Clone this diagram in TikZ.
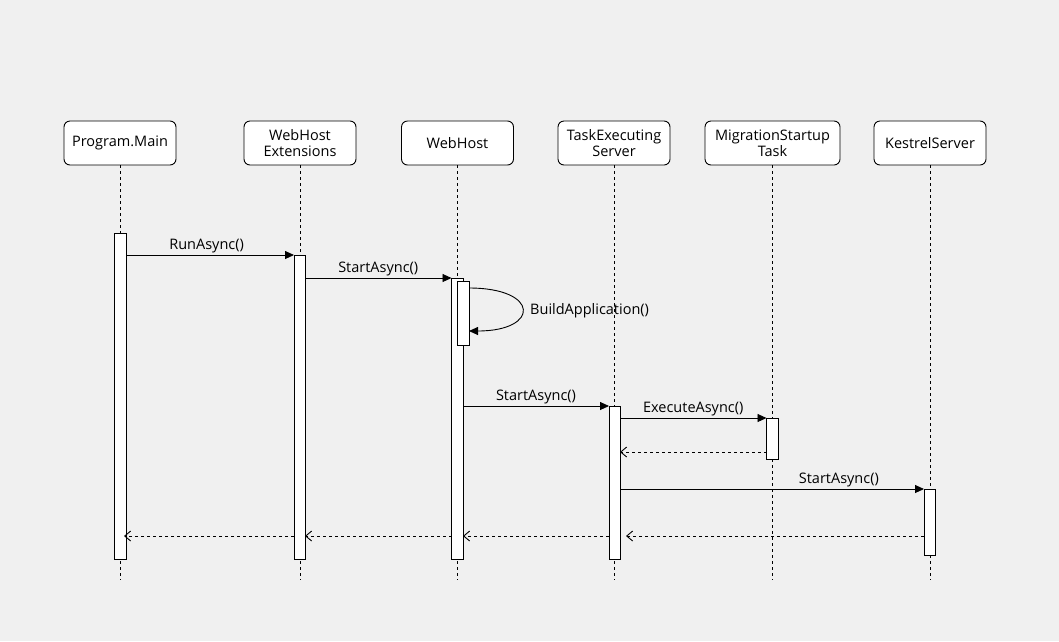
\documentclass[tikz,border=0pt]{standalone}
\usepackage{fontspec}
\setmainfont{Open Sans}
\usetikzlibrary{arrows.meta}
\definecolor{bg}{HTML}{F0F0F0}
\begin{document}
\begin{tikzpicture}[x=1pt,y=-1pt,
  hdr/.style={draw,fill=white,rounded corners=6pt,minimum width=112pt,minimum height=44pt,align=center,inner sep=1pt,line width=0.9pt,font=\fontsize{14.5}{16.5}\selectfont},
  life/.style={dashed,line width=0.9pt},
  act/.style={draw,fill=white,line width=0.9pt},
  msg/.style={line width=0.9pt,-{Triangle[length=9pt,width=8pt]}},
  ret/.style={line width=0.9pt,dashed,-{Straight Barb[length=6pt,width=10pt]}},
  lbl/.style={font=\fontsize{14.5}{16.5}\selectfont,inner sep=2pt}]
\fill[bg] (0,0) rectangle (1059,641);
\useasboundingbox (0,0) rectangle (1059,641);
\node[hdr] (pm) at (120,143) {Program.Main};
\node[hdr] (we) at (300,143) {WebHost\\Extensions};
\node[hdr] (wh) at (457.5,143) {WebHost};
\node[hdr] (te) at (614,143) {TaskExecuting\\Server};
\node[hdr,minimum width=135pt] (ms) at (772.5,143) {MigrationStartup\\Task};
\node[hdr] (ks) at (930,143) {KestrelServer};
\foreach \n/\x in {pm/120,we/300,wh/457.5,te/614,ms/772.5,ks/930}{
  \coordinate (\n e) at (\x,580);
  \draw[life] (\n.south) -- (\n e);}
\draw[act] (114,233) rectangle (126,559);
\draw[act] (294,255) rectangle (305,559);
\draw[act] (451.5,278) rectangle (463,559);
\draw[act] (457.5,281) rectangle (469,345);
\draw[act] (609,406) rectangle (620,559);
\draw[act] (766.5,418) rectangle (778,459);
\draw[act] (924,489) rectangle (935,555);
\coordinate (a1) at (126,255); \coordinate (a2) at (294,255);
\draw[msg] (a1) -- node[lbl,above,pos=0.48]{RunAsync()} (a2);
\coordinate (b1) at (305,278); \coordinate (b2) at (451.5,278);
\draw[msg] (b1) -- node[lbl,above,pos=0.5]{StartAsync()} (b2);
\coordinate (c1) at (469,288); \coordinate (c2) at (469,331);
\draw[msg] (c1) .. controls (540,288) and (540,331) .. (c2);
\node[lbl,anchor=west] (cl) at (528,311) {BuildApplication()};
\coordinate (d1) at (463,406); \coordinate (d2) at (609,406);
\draw[msg] (d1) -- node[lbl,above,pos=0.5]{StartAsync()} (d2);
\coordinate (e1) at (620,418); \coordinate (e2) at (766.5,418);
\draw[msg] (e1) -- node[lbl,above,pos=0.5]{ExecuteAsync()} (e2);
\coordinate (f1) at (766.5,452); \coordinate (f2) at (620,452);
\draw[ret] (f1) -- (f2);
\coordinate (g1) at (620,489); \coordinate (g2) at (924,489);
\draw[msg] (g1) -- node[lbl,above,pos=0.72]{StartAsync()} (g2);
\coordinate (h1) at (924,536); \coordinate (h2) at (626,536);
\coordinate (h3) at (609,536); \coordinate (h4) at (463,536);
\coordinate (h5) at (451.5,536); \coordinate (h6) at (305,536);
\coordinate (h7) at (294,536); \coordinate (h8) at (124,536);
\draw[ret] (h1) -- (h2);
\draw[ret] (h3) -- (h4);
\draw[ret] (h5) -- (h6);
\draw[ret] (h7) -- (h8);
\end{tikzpicture}
\end{document}
